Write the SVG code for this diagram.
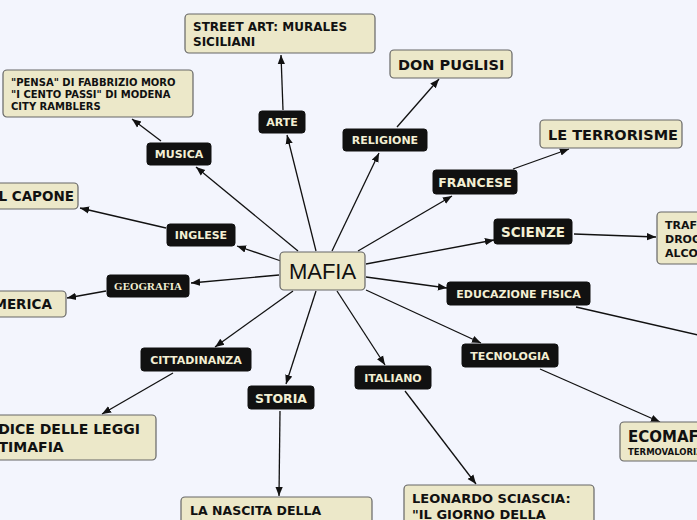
<svg xmlns="http://www.w3.org/2000/svg" width="697" height="520" viewBox="0 0 697 520">
<defs>
<marker id="a" viewBox="0 0 10 10" refX="10" refY="5" markerWidth="7" markerHeight="7" orient="auto"><path d="M0,1 L10,5 L0,9 z" fill="#111"/></marker>
<style>
.c{fill:#111;stroke:#111;stroke-width:1;}
.ct{fill:#f3efd4;font-family:"DejaVu Sans",sans-serif;font-weight:bold;font-size:11px;text-anchor:middle;}
.l{fill:#ece8c9;stroke:#666;stroke-width:1.2;}
.lt{fill:#111;font-family:"DejaVu Sans",sans-serif;font-weight:bold;font-size:12px;}
#e line{stroke:#111;stroke-width:1.3;marker-end:url(#a);}
</style>
</defs>
<rect width="697" height="520" fill="#f3f5fd"/>
<g id="e">
<line x1="316" y1="251" x2="287" y2="135"/>
<line x1="332" y1="251" x2="379" y2="153"/>
<line x1="298" y1="251" x2="196" y2="167"/>
<line x1="358" y1="251" x2="452" y2="196"/>
<line x1="366" y1="264" x2="494" y2="240"/>
<line x1="281" y1="261" x2="237" y2="246"/>
<line x1="279" y1="275" x2="191" y2="283"/>
<line x1="366" y1="277" x2="447" y2="288"/>
<line x1="293" y1="291" x2="215" y2="347"/>
<line x1="366" y1="290" x2="481" y2="343"/>
<line x1="337" y1="291" x2="385" y2="365"/>
<line x1="316" y1="291" x2="286" y2="384"/>
<line x1="283" y1="110" x2="281" y2="55"/>
<line x1="397" y1="127" x2="439" y2="79"/>
<line x1="161" y1="141" x2="132" y2="119"/>
<line x1="513" y1="169" x2="569" y2="149"/>
<line x1="574" y1="234" x2="656" y2="237"/>
<line x1="166" y1="228" x2="80" y2="208"/>
<line x1="106" y1="291" x2="67" y2="298"/>
<line x1="576" y1="307" x2="720" y2="340"/>
<line x1="173" y1="373" x2="102" y2="414"/>
<line x1="540" y1="369" x2="660" y2="422"/>
<line x1="405" y1="391" x2="476" y2="484"/>
<line x1="280" y1="411" x2="279" y2="496"/>
</g>
<g id="mafia"><rect x="280" y="252" width="85" height="38" rx="4" class="l"/><text x="322.5" y="279" font-family="Liberation Sans,Arial,sans-serif" font-size="22" text-anchor="middle" fill="#111">MAFIA</text></g>
<g id="arte"><rect x="259" y="111" width="46" height="22" rx="3" class="c"/><text x="282" y="126" class="ct">ARTE</text></g>
<g id="religione"><rect x="343" y="129" width="84" height="22" rx="3" class="c"/><text x="385" y="144" class="ct">RELIGIONE</text></g>
<g id="musica"><rect x="147" y="143" width="64" height="22" rx="3" class="c"/><text x="179" y="158" class="ct">MUSICA</text></g>
<g id="francese"><rect x="433" y="170" width="84" height="24" rx="3" class="c"/><text x="475" y="186.5" class="ct" style="font-size:12.5px">FRANCESE</text></g>
<g id="scienze"><rect x="494" y="219" width="78" height="25" rx="3" class="c"/><text x="533" y="236.5" class="ct" style="font-size:13.5px">SCIENZE</text></g>
<g id="inglese"><rect x="167" y="224" width="68" height="22" rx="3" class="c"/><text x="201" y="239" class="ct">INGLESE</text></g>
<g id="geografia"><rect x="107" y="275" width="82" height="22" rx="3" class="c"/><text x="148" y="290" class="ct" style="font-family:'Liberation Serif',serif">GEOGRAFIA</text></g>
<g id="edfisica"><rect x="447" y="282" width="143" height="23" rx="3" class="c"/><text x="518.5" y="298" class="ct">EDUCAZIONE FISICA</text></g>
<g id="cittadinanza"><rect x="141" y="348" width="110" height="23" rx="3" class="c"/><text x="196" y="364" class="ct">CITTADINANZA</text></g>
<g id="tecnologia"><rect x="462" y="344" width="96" height="23" rx="3" class="c"/><text x="510" y="360" class="ct">TECNOLOGIA</text></g>
<g id="italiano"><rect x="355" y="366" width="76" height="23" rx="3" class="c"/><text x="393" y="382" class="ct">ITALIANO</text></g>
<g id="storia"><rect x="248" y="386" width="66" height="23" rx="3" class="c"/><text x="281" y="402.5" class="ct" style="font-size:12.5px">STORIA</text></g>
<g id="street"><rect x="185" y="14" width="190" height="39" rx="4" class="l"/><text x="193" y="31" class="lt">STREET ART: MURALES</text><text x="193" y="46" class="lt">SICILIANI</text></g>
<g id="puglisi"><rect x="390" y="50" width="122" height="28" rx="4" class="l"/><text x="398" y="70" class="lt" style="font-size:14.5px">DON PUGLISI</text></g>
<g id="pensa"><rect x="3" y="70" width="190" height="47" rx="4" class="l"/><text x="11" y="86" class="lt" style="font-size:10px">"PENSA" DI FABBRIZIO MORO</text><text x="11" y="98" class="lt" style="font-size:10px">"I CENTO PASSI" DI MODENA</text><text x="11" y="110" class="lt" style="font-size:10px">CITY RAMBLERS</text></g>
<g id="terrorisme"><rect x="540" y="120" width="142" height="28" rx="4" class="l"/><text x="548" y="140" class="lt" style="font-size:14.5px">LE TERRORISME</text></g>
<g id="capone"><rect x="-12" y="183" width="90" height="26" rx="4" class="l"/><text x="-12" y="201" class="lt" style="font-size:13.5px">AL CAPONE</text></g>
<g id="traffico"><rect x="657" y="212" width="60" height="52" rx="4" class="l"/><text x="665" y="229" class="lt" style="font-size:11px">TRAFFICO</text><text x="665" y="243" class="lt" style="font-size:11px">DROGA</text><text x="665" y="257" class="lt" style="font-size:11px">ALCOOL</text></g>
<g id="america"><rect x="-12" y="291" width="78" height="26" rx="4" class="l"/><text x="-17" y="309" class="lt" style="font-size:13.5px">AMERICA</text></g>
<g id="codice"><rect x="-12" y="415" width="168" height="45" rx="4" class="l"/><text x="-24" y="434" class="lt" style="font-size:14px">CODICE DELLE LEGGI</text><text x="-24" y="452" class="lt" style="font-size:14px">ANTIMAFIA</text></g>
<g id="ecomafie"><rect x="620" y="422" width="100" height="39" rx="4" class="l"/><text x="628" y="442" class="lt" style="font-size:15px">ECOMAFIE</text><text x="628" y="455" class="lt" style="font-size:8.5px">TERMOVALORIZZATORI</text></g>
<g id="nascita"><rect x="181" y="497" width="191" height="40" rx="4" class="l"/><text x="190" y="515" class="lt" style="font-size:12.5px">LA NASCITA DELLA</text></g>
<g id="sciascia"><rect x="404" y="485" width="190" height="50" rx="4" class="l"/><text x="412" y="503" class="lt" style="font-size:13px">LEONARDO SCIASCIA:</text><text x="412" y="519" class="lt" style="font-size:13px">"IL GIORNO DELLA</text></g>
</svg>
